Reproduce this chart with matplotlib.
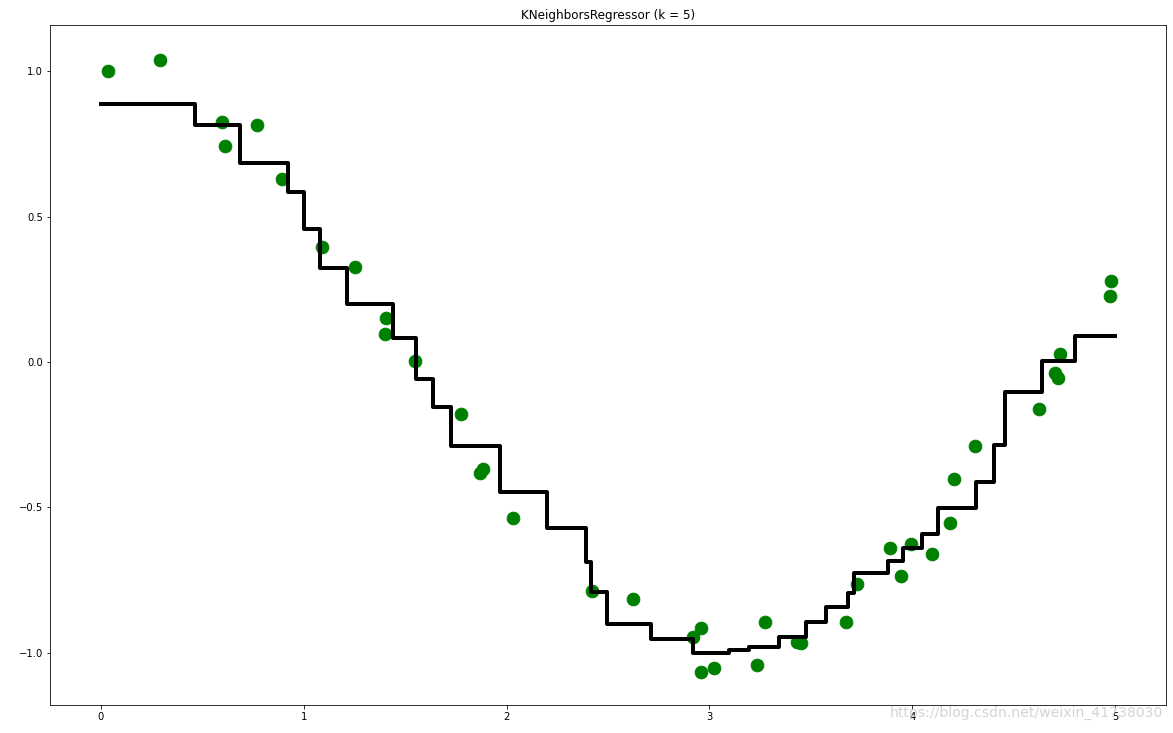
import matplotlib.pyplot as plt

# sample points
x_train = [0.034, 0.291, 0.596, 0.611, 0.768, 0.892, 1.089, 1.251, 1.404, 1.399,
           1.547, 1.778, 1.867, 1.882, 2.030, 2.419, 2.621, 2.921, 2.956, 2.960,
           3.020, 3.232, 3.276, 3.433, 3.453, 3.675, 3.729, 3.892, 3.946, 3.995,
           4.099, 4.187, 4.207, 4.310, 4.626, 4.704, 4.719, 4.729, 4.975, 4.980]
y_train = [1.000, 1.040, 0.826, 0.744, 0.816, 0.630, 0.396, 0.327, 0.151, 0.096,
           0.003, -0.179, -0.382, -0.368, -0.537, -0.788, -0.816, -0.947, -0.916, -1.067,
           -1.053, -1.043, -0.895, -0.964, -0.967, -0.895, -0.764, -0.640, -0.737, -0.626,
           -0.661, -0.554, -0.403, -0.289, -0.162, -0.038, -0.055, 0.028, 0.227, 0.279]

# knn prediction: left edge of each step and its level
step_x = [0.0, 0.463, 0.685, 0.921, 1.000, 1.079, 1.212, 1.438, 1.552, 1.640,
          1.724, 1.970, 2.197, 2.394, 2.414, 2.493, 2.714, 2.921, 3.094, 3.197,
          3.345, 3.478, 3.576, 3.685, 3.714, 3.882, 3.956, 4.049, 4.128, 4.315,
          4.404, 4.458, 4.640, 4.803, 5.0]
step_y = [0.888, 0.816, 0.685, 0.585, 0.458, 0.324, 0.200, 0.083, -0.059, -0.154,
          -0.289, -0.448, -0.571, -0.688, -0.792, -0.902, -0.954, -1.002, -0.991, -0.981,
          -0.947, -0.895, -0.843, -0.796, -0.726, -0.685, -0.640, -0.592, -0.503, -0.413,
          -0.286, -0.103, 0.003, 0.090, 0.090]

dpi = 72
fig = plt.figure(figsize=(1173 / dpi, 733 / dpi), dpi=dpi)
ax = fig.add_axes([50 / 1173, 1 - 705 / 733, 1116 / 1173, 680 / 733])

ax.scatter(x_train, y_train, c='g', s=160, zorder=2)
ax.plot(step_x, step_y, color='k', linewidth=4, drawstyle='steps-post', zorder=3)

ax.set_title('KNeighborsRegressor (k = 5)', fontsize=12)
ax.set_xlim(-0.25, 5.25)
ax.set_ylim(-1.18, 1.16)
ax.set_xticks([0, 1, 2, 3, 4, 5])
ax.set_yticks([-1.0, -0.5, 0.0, 0.5, 1.0])
ax.tick_params(labelsize=10)

fig.text(1163 / 1173, 1 - 713 / 733, 'https://blog.csdn.net/weixin_41738030',
         ha='right', va='center', fontsize=14, color='#d0d0d0', alpha=0.9)

fig.savefig('out.png', dpi=dpi)
